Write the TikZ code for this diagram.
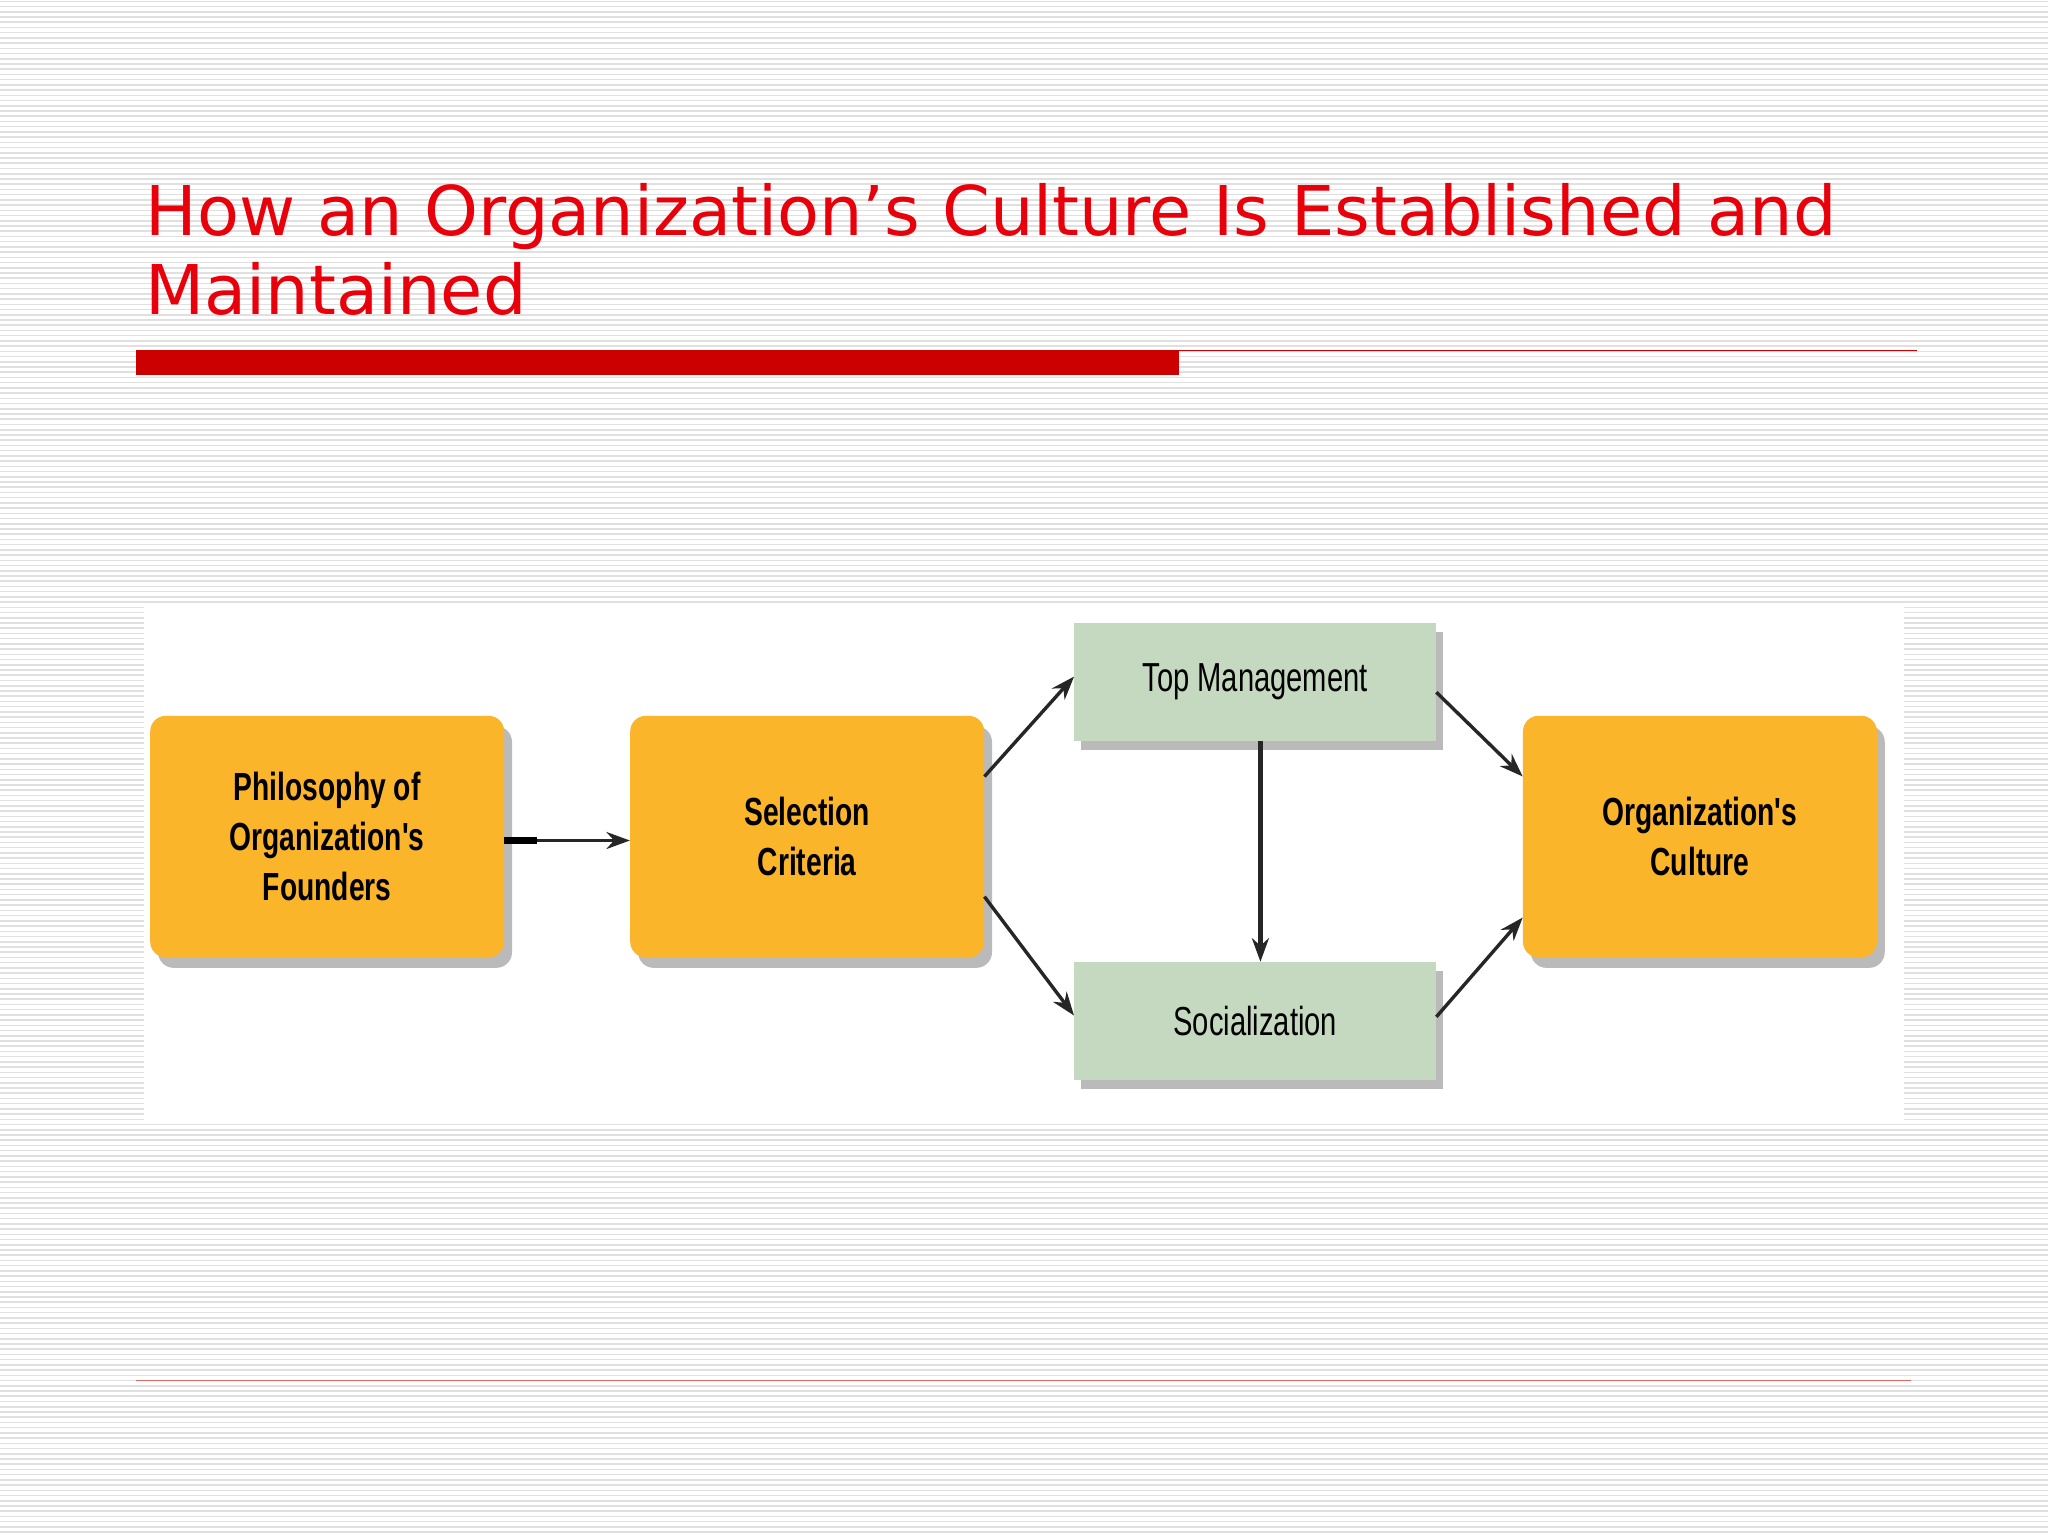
\documentclass[tikz,border=0pt]{standalone}
\usepackage{fontspec}
\setmainfont{DejaVu Sans}
\newfontfamily\cond[FakeStretch=0.72]{Liberation Sans}
\usetikzlibrary{shadows,arrows.meta}
\definecolor{titlered}{HTML}{E8000B}
\definecolor{barred}{HTML}{CC0000}
\definecolor{orangebox}{HTML}{FBB52B}
\definecolor{greenbox}{HTML}{C5D8C0}
\tikzset{
  obox/.style={rounded corners=12pt,fill=orangebox,minimum width=271pt,minimum height=185pt,align=center,font=\cond\bfseries\fontsize{30}{38}\selectfont,drop shadow={shadow xshift=6pt,shadow yshift=-8pt,fill=black!45,opacity=0.6}},
  gbox/.style={fill=greenbox,minimum width=277pt,minimum height=90pt,align=center,font=\cond\fontsize{31}{36}\selectfont,drop shadow={shadow xshift=5pt,shadow yshift=-7pt,fill=black!45,opacity=0.6}},
  conn/.style={-{Stealth[length=18pt,width=13pt]},line width=2.6pt,black!85}
}
\begin{document}
\begin{tikzpicture}[x=1pt,y=-1pt]
\useasboundingbox (0,0) rectangle (1568,1176);
\fill[white] (0,0) rectangle (1568,1176);
\foreach \y in {1,5,...,1176} \draw[black!12,line width=1.2pt] (0,\y) -- (1568,\y);
\node[anchor=west,text=titlered,font=\fontsize{52.5}{61}\selectfont,align=left] (title) at (108,191) {How an Organization’s Culture Is Established and\\Maintained};
\fill[barred] (104,268) rectangle (903,287);
\draw[barred,line width=1.2pt] (903,268.5) -- (1468,268.5);
\draw[barred!60,line width=0.8pt] (104,1057) -- (1463,1057);
\fill[white] (110,462) rectangle (1458,860);
\node[obox] (phil) at (250.5,640.5) {Philosophy of\\Organization's\\Founders};
\node[obox] (sel) at (618,640.5) {Selection\\Criteria};
\node[obox] (cult) at (1301.5,640.5) {Organization's\\Culture};
\node[gbox] (top) at (961,522) {Top Management};
\node[gbox] (soc) at (961,781.5) {Socialization};
\draw[conn] ([yshift=-3pt]phil.east) -- ([yshift=-3pt]sel.west);
\draw[line width=6pt] ([yshift=-3pt]phil.east) -- +(25pt,0);
\draw[conn] ([yshift=46pt]sel.east) -- ([yshift=4pt]top.west);
\draw[conn] ([yshift=-46pt]sel.east) -- ([yshift=4pt]soc.west);
\draw[conn,line width=3.5pt] ([xshift=4pt]top.south) -- ([xshift=4pt]soc.north);
\draw[conn] ([yshift=-8pt]top.east) -- ([yshift=46pt]cult.west);
\draw[conn] ([yshift=3pt]soc.east) -- ([yshift=-62pt]cult.west);
\end{tikzpicture}
\end{document}
